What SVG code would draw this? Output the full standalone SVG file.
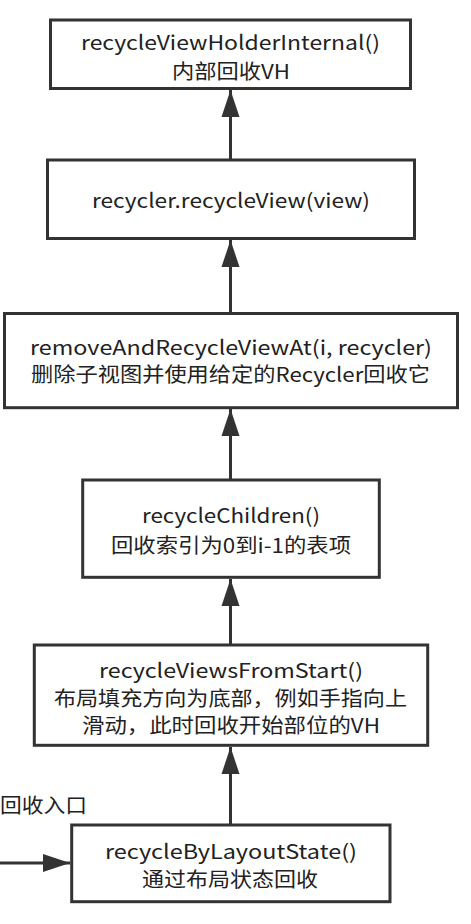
<svg xmlns="http://www.w3.org/2000/svg" width="471" height="924" viewBox="0 0 471 924">
<style>
.box{fill:#ffffff;stroke:#333333;stroke-width:3}
.t{font-family:"Noto Sans CJK SC","Liberation Sans",sans-serif;font-size:20px;fill:#222222;text-anchor:middle}
.lbl{font-family:"Noto Sans CJK SC","Liberation Sans",sans-serif;font-size:20px;fill:#222222}
.edge{stroke:#333333;stroke-width:3;fill:none;marker-end:url(#arr)}
</style>
<defs>
<marker id="arr" markerUnits="userSpaceOnUse" markerWidth="30" markerHeight="20" viewBox="-28 -10 30 20" refX="0" refY="0" orient="auto">
<path d="M0,0 L-27,-9 L-27,9 Z" fill="#333333"/>
</marker>
</defs>
<g id="connectors">
<line class="edge" x1="230.5" y1="160" x2="230.5" y2="90"/>
<line class="edge" x1="230.5" y1="313.5" x2="230.5" y2="240"/>
<line class="edge" x1="230.5" y1="480" x2="230.5" y2="409"/>
<line class="edge" x1="230.5" y1="645" x2="230.5" y2="579"/>
<line class="edge" x1="230.5" y1="825" x2="230.5" y2="747"/>
<line class="edge" x1="0" y1="863" x2="70" y2="863"/>
</g>
<g id="n1">
<rect class="box" x="50.5" y="20" width="360" height="68.5"/>
<text class="t" x="230.5" y="50" textLength="299" lengthAdjust="spacingAndGlyphs">recycleViewHolderInternal()</text>
<text class="t" x="231" y="79" textLength="118" lengthAdjust="spacingAndGlyphs">内部回收VH</text>
</g>
<g id="n2">
<rect class="box" x="47.5" y="160" width="367" height="78.5"/>
<text class="t" x="231" y="208" textLength="278" lengthAdjust="spacingAndGlyphs">recycler.recycleView(view)</text>
</g>
<g id="n3">
<rect class="box" x="4.5" y="313.5" width="453" height="94.2"/>
<text class="t" x="231" y="355" textLength="402" lengthAdjust="spacingAndGlyphs">removeAndRecycleViewAt(i, recycler)</text>
<text class="t" x="230.5" y="382" textLength="399" lengthAdjust="spacingAndGlyphs">删除子视图并使用给定的Recycler回收它</text>
</g>
<g id="n4">
<rect class="box" x="82.7" y="480" width="296.6" height="97.3"/>
<text class="t" x="231" y="523" textLength="178" lengthAdjust="spacingAndGlyphs">recycleChildren()</text>
<text class="t" x="231" y="553" textLength="240" lengthAdjust="spacingAndGlyphs">回收索引为0到i-1的表项</text>
</g>
<g id="n5">
<rect class="box" x="34.3" y="645" width="393.4" height="100.3"/>
<text class="t" x="231" y="678" textLength="264" lengthAdjust="spacingAndGlyphs">recycleViewsFromStart()</text>
<text class="t" x="230.5" y="706" textLength="353" lengthAdjust="spacingAndGlyphs">布局填充方向为底部，例如手指向上</text>
<text class="t" x="231" y="733" textLength="298" lengthAdjust="spacingAndGlyphs">滑动，此时回收开始部位的VH</text>
</g>
<g id="n6">
<rect class="box" x="71.7" y="825" width="318.3" height="76.7"/>
<text class="t" x="231" y="859" textLength="252" lengthAdjust="spacingAndGlyphs">recycleByLayoutState()</text>
<text class="t" x="230" y="887" textLength="176" lengthAdjust="spacingAndGlyphs">通过布局状态回收</text>
</g>
<g id="entry-label">
<text class="lbl" x="0" y="813" textLength="87" lengthAdjust="spacingAndGlyphs">回收入口</text>
</g>
</svg>
